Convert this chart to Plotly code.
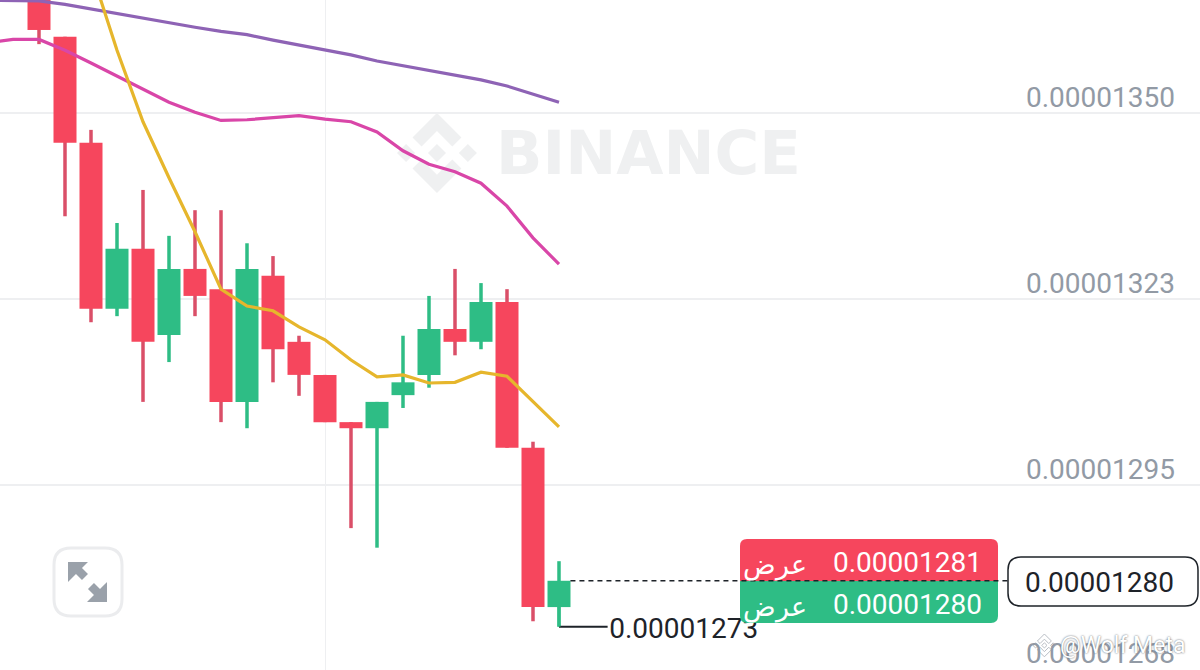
'''
    Candlestick screenshot with moving averages and order labels.
    Prices are in units of 1e-8.
'''
import plotly.graph_objects as go

W, H = 1200, 670

RED = "#f6465d"
GREEN = "#2ebd85"
RED_WICK = "#da4f68"
GRID = "#eeeff1"
INK = "#1e2329"
GREY = "#929aa5"

opens = [1368.0, 1361.3, 1345.6, 1321.0, 1329.9, 1317.1, 1326.9, 1323.9, 1307.2, 1325.9, 1316.1,
         1311.2, 1304.2, 1303.3, 1308.2, 1311.2, 1318.0, 1316.1, 1322.0, 1300.4, 1276.8]
closes = [1362.3, 1345.6, 1321.0, 1329.9, 1316.1, 1326.9, 1322.9, 1307.2, 1326.9, 1315.0, 1311.2,
          1304.2, 1303.3, 1307.2, 1310.1, 1318.0, 1316.1, 1322.0, 1300.4, 1276.8, 1280.7]
highs = [1368.0, 1361.3, 1347.5, 1333.7, 1338.6, 1331.8, 1335.6, 1335.6, 1330.7, 1328.8, 1317.0,
         1311.2, 1304.2, 1307.2, 1317.0, 1322.9, 1326.9, 1324.8, 1323.9, 1301.3, 1283.6]
lows = [1360.2, 1334.7, 1319.0, 1319.9, 1307.2, 1313.1, 1319.9, 1304.2, 1303.3, 1310.1, 1308.1,
        1304.2, 1288.5, 1285.6, 1306.3, 1309.3, 1314.1, 1315.0, 1300.4, 1274.7, 1273.9]

ma_fast_x = list(range(2, 21))
ma_fast = [1371.2, 1359.3, 1348.7, 1340.4, 1332.4, 1323.9, 1321.4, 1320.7, 1318.3, 1316.4, 1313.4,
           1310.9, 1311.2, 1310.0, 1310.1, 1311.6, 1311.0, 1307.2, 1303.5]
ma_mid_x = list(range(-2, 21))
ma_mid = [1360.4, 1360.9, 1360.9, 1359.3, 1357.4, 1355.5, 1353.6, 1351.6, 1350.1, 1348.9, 1349.0, 1349.3,
          1349.6, 1349.1, 1348.7, 1347.2, 1344.4, 1342.4, 1341.3, 1339.6, 1336.2, 1331.5, 1327.6]
ma_slow = [1366.7, 1366.6, 1366.6, 1366.1, 1365.4, 1364.7, 1364.1, 1363.3, 1362.7, 1362.1, 1361.6, 1360.8,
           1360.1, 1359.3, 1358.6, 1357.7, 1357.0, 1356.4, 1355.6, 1354.9, 1354.0, 1352.8, 1351.6]

grid_prices = [1350, 1322.4, 1294.9, 1267.6]
grid_labels = ["0.00001350", "0.00001323", "0.00001295", "0.00001268"]
last_price = 1280.7
low_price = 1273.9
low_label = "0.00001273"
ask_label = "0.00001281"
bid_label = "0.00001280"
last_label = "0.00001280"
side_label = "عرض"


def px_x(x):
    return x / W


def px_y(y):
    return 1 - y / H


def poly(points, color):
    # closed polygon, given in screen pixels
    path = "M" + " L".join(f"{px_x(x):.5f},{px_y(y):.5f}" for x, y in points) + " Z"
    return dict(type="path", xref="paper", yref="paper", path=path,
                fillcolor=color, line_width=0)


def rounded(x0, y0, x1, y1, tl, tr, br, bl, fill, line=None, width=0):
    # rounded box in screen pixels, one radius per corner
    def p(x, y):
        return f"{px_x(x):.5f},{px_y(y):.5f}"

    path = (f"M{p(x0 + tl, y0)} L{p(x1 - tr, y0)} Q{p(x1, y0)} {p(x1, y0 + tr)} "
            f"L{p(x1, y1 - br)} Q{p(x1, y1)} {p(x1 - br, y1)} "
            f"L{p(x0 + bl, y1)} Q{p(x0, y1)} {p(x0, y1 - bl)} "
            f"L{p(x0, y0 + tl)} Q{p(x0, y0)} {p(x0 + tl, y0)} Z")
    return dict(type="path", xref="paper", yref="paper", path=path, fillcolor=fill,
                line=dict(color=line or fill, width=width))


def logo_shapes(left, top, scale, color, layer, edge=None):
    parts = [
        [(12, 9.28), (14.72, 12), (12, 14.72), (9.28, 12)],
        [(2.72, 9.28), (5.44, 12), (2.72, 14.72), (0, 12)],
        [(21.28, 9.28), (24, 12), (21.28, 14.72), (18.56, 12)],
        [(12, 0), (19.34, 7.34), (16.62, 10.06), (12, 5.44), (7.38, 10.06), (4.66, 7.34)],
        [(12, 24), (19.34, 16.65), (16.62, 13.93), (12, 18.56), (7.38, 13.93), (4.66, 16.65)],
    ]
    out = []
    for part in parts:
        shape = poly([(left + u * scale, top + v * scale) for u, v in part], color)
        shape["layer"] = layer
        if edge:
            shape["line"] = dict(color=edge, width=1)
            del shape["line_width"]
        out.append(shape)
    return out


xs = list(range(len(opens)))
up = [c >= o for o, c in zip(opens, closes)]

fig = go.Figure()

# wicks
fig.add_bar(
    x=xs,
    base=lows,
    y=[h - l for h, l in zip(highs, lows)],
    width=3.5 / 26,
    marker=dict(color=[GREEN if u else RED_WICK for u in up], line_width=0),
)
# bodies
fig.add_bar(
    x=xs,
    base=[min(o, c) for o, c in zip(opens, closes)],
    y=[abs(o - c) for o, c in zip(opens, closes)],
    width=23 / 26,
    marker=dict(color=[GREEN if u else RED for u in up], line_width=0),
)

fig.add_scatter(x=ma_mid_x, y=ma_slow, mode="lines", line=dict(color="#8e63b5", width=3.2))
fig.add_scatter(x=ma_mid_x, y=ma_mid, mode="lines", line=dict(color="#d946a8", width=3.2))
fig.add_scatter(x=ma_fast_x, y=ma_fast, mode="lines", line=dict(color="#e6b62c", width=3.2))

# drawn as a trace so the green box can cover the top of it
fig.add_scatter(
    x=[21.93], y=[low_price - 0.6], mode="text", text=[low_label], textposition="middle right",
    textfont=dict(family="Roboto", size=28, color=INK),
)

shapes = logo_shapes(397, 113, 3.33, "#eff0f1", "below")
shapes += [
    # low marker
    dict(type="line", x0=20, x1=21.87, y0=low_price, y1=low_price, line=dict(color=INK, width=2)),
    dict(type="line", x0=20, x1=20, y0=low_price, y1=1277, line=dict(color=GREEN, width=3)),
    # order boxes
    rounded(740, 539, 998, 581, 7, 7, 0, 0, RED),
    rounded(740, 581, 998, 623, 0, 0, 7, 7, GREEN),
    # last price line and pill
    dict(type="line", xref="x", yref="y", x0=20.44, x1=37.3, y0=last_price, y1=last_price,
         line=dict(color=INK, width=1.5, dash="5px,4px")),
    rounded(1008, 557, 1198, 606, 13, 13, 13, 13, "#ffffff", INK, 1.5),
    # expand button
    rounded(54, 548, 122, 616, 17, 17, 17, 17, "#ffffff", "#ebecee", 3),
    poly([(68, 562), (88, 562), (82, 568), (88, 574), (82, 580), (76, 574), (68, 582)], "#9aa1aa"),
    poly([(107, 582), (107, 602), (87, 602), (94, 595), (88, 589), (94, 583), (100, 589)], "#9aa1aa"),
]
shapes += logo_shapes(1033, 634, 0.95, "#ffffff", "above", edge="#b9bec5")

annotations = [
    dict(text="BINANCE", x=px_x(648), y=px_y(153),
         font=dict(family="DejaVu Sans", size=61, color="#eff0f1", weight=700)),
    dict(text=ask_label, x=px_x(907), y=px_y(562), font=dict(family="Roboto", size=28, color="#ffffff")),
    dict(text=bid_label, x=px_x(907), y=px_y(604), font=dict(family="Roboto", size=28, color="#ffffff")),
    dict(text=side_label, x=px_x(775), y=px_y(563), font=dict(family="Noto Sans", size=27, color="#ffffff")),
    dict(text=side_label, x=px_x(775), y=px_y(605), font=dict(family="Noto Sans", size=27, color="#ffffff")),
    dict(text=last_label, x=px_x(1099), y=px_y(582), font=dict(family="Roboto", size=28, color=INK)),
]
for price, label in zip(grid_prices, grid_labels):
    annotations.append(dict(
        text=label, x=px_x(1177), xanchor="right", y=price, yref="y", yanchor="bottom", yshift=-3,
        font=dict(family="Roboto", size=28, color=GREY),
    ))
annotations.append(dict(
    text="@Wolf Meta", x=px_x(1058), xanchor="left", y=px_y(645),
    font=dict(family="Roboto", size=23, color="#ffffff", shadow="0 0 2px #4f5660"),
))
for a in annotations:
    a.setdefault("xref", "paper")
    a.setdefault("yref", "paper")
    a.setdefault("xanchor", "center")
    a.setdefault("yanchor", "middle")
    a["showarrow"] = False

fig.update_layout(
    width=W,
    height=H,
    margin=dict(l=0, r=0, t=0, b=0),
    paper_bgcolor="#ffffff",
    plot_bgcolor="#ffffff",
    showlegend=False,
    barmode="overlay",
    shapes=shapes,
    annotations=annotations,
)
fig.update_xaxes(range=[-1.5, 44.654], tickvals=[11], showticklabels=False, showgrid=True,
                 gridcolor=GRID, gridwidth=1, zeroline=False)
fig.update_yaxes(range=[1267.48, 1366.74], tickvals=grid_prices, showticklabels=False, showgrid=True,
                 gridcolor=GRID, gridwidth=2, zeroline=False)

# the page's default body margin would push the chart off by 8px
fig.write_html(
    "out.html",
    config=dict(displayModeBar=False),
    post_script="document.body.style.margin='0';document.body.style.overflow='hidden';",
)
